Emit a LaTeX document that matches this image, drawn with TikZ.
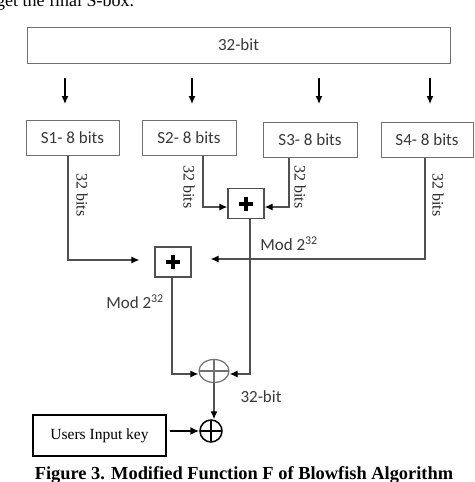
\documentclass[tikz,border=0pt]{standalone}
\usepackage{fontspec}
\setmainfont{Liberation Serif}
\newfontfamily\calib{Carlito}
\usetikzlibrary{arrows.meta,shapes.geometric}
\definecolor{boxgray}{HTML}{707070}
\definecolor{linegray}{HTML}{505050}
\definecolor{txtgray}{HTML}{383838}
\tikzset{
  sbox/.style={draw=boxgray,line width=1pt,minimum height=35pt,inner sep=0pt,font=\calib\fontsize{17}{19}\selectfont,text=txtgray},
  conn/.style={draw=linegray,line width=1.2pt,-{Latex[length=8pt,width=7pt,color=black]}},
  downarr/.style={draw=black,line width=1.2pt,-{Latex[length=8pt,width=7pt]}},
  pbox/.style={draw=linegray,line width=1.2pt,minimum width=36pt,minimum height=30pt,inner sep=0pt,
    path picture={\draw[black,line width=4pt] ([xshift=-7pt]path picture bounding box.center) -- ([xshift=7pt]path picture bounding box.center);
                  \draw[black,line width=4pt] ([yshift=-7pt]path picture bounding box.center) -- ([yshift=7pt]path picture bounding box.center);}},
  bitlab/.style={rotate=-90,font=\fontsize{16}{18}\selectfont,text=black!85},
  modlab/.style={font=\calib\fontsize{17}{19}\selectfont,text=txtgray},
}
\begin{document}
\begin{tikzpicture}[x=1pt,y=-1pt]
\useasboundingbox (0,0) rectangle (474,482);
\node[anchor=base west,font=\fontsize{18}{20}\selectfont,inner sep=0pt] (toptext) at (-4,6) {get the final S-box.};
% top box
\node[draw=boxgray,line width=1pt,minimum width=423pt,minimum height=36pt,inner sep=0pt,font=\calib\fontsize{17}{19}\selectfont,text=txtgray] (top) at (238.5,45) {32-bit};
% S boxes
\node[sbox,minimum width=93pt] (s1) at (72.5,137.5) {S1- 8 bits};
\node[sbox,minimum width=94pt] (s2) at (189,137.5) {S2- 8 bits};
\node[sbox,minimum width=94pt] (s3) at (310,139.5) {S3- 8 bits};
\node[sbox,minimum width=92pt] (s4) at (427,139.5) {S4- 8 bits};
% arrows from top box
\coordinate (a1) at (65,78); \coordinate (b1) at (65,104);
\coordinate (a2) at (192,78); \coordinate (b2) at (192,104);
\coordinate (a3) at (319,78); \coordinate (b3) at (319,104);
\coordinate (a4) at (430,78); \coordinate (b4) at (430,104);
\draw[downarr] (a1) -- (b1);
\draw[downarr] (a2) -- (b2);
\draw[downarr] (a3) -- (b3);
\draw[downarr] (a4) -- (b4);
% plus boxes
\node[pbox] (p1) at (173,262) {};
\node[pbox] (p2) at (246,203.5) {};
% XORs
\node[draw=boxgray,line width=1.2pt,ellipse,minimum width=30pt,minimum height=23pt,inner sep=0pt,
  path picture={\draw[boxgray,line width=1.2pt] (path picture bounding box.north) -- (path picture bounding box.south);
                \draw[boxgray,line width=1.2pt] (path picture bounding box.west) -- (path picture bounding box.east);}] (x1) at (214,371) {};
\node[draw=black,line width=1.5pt,circle,minimum size=22pt,inner sep=0pt,
  path picture={\draw[black,line width=1.5pt] (path picture bounding box.north) -- (path picture bounding box.south);
                \draw[black,line width=1.5pt] (path picture bounding box.west) -- (path picture bounding box.east);}] (x2) at (211,431) {};
% key box
\node[draw=black,line width=1.5pt,minimum width=133pt,minimum height=41pt,inner sep=0pt,font=\fontsize{15.5}{17}\selectfont] (key) at (99.5,435.5) {Users Input key};
% connectors
\draw[conn,shorten >=15pt] ([xshift=-4.5pt]s1.south) |- ([yshift=2pt]p1.west);
\draw[conn] ([xshift=14pt]s2.south) |- ([yshift=-3.5pt]p2.west);
\draw[conn] ([xshift=-21pt]s3.south) |- ([yshift=-3.5pt]p2.east);
\draw[conn,shorten >=19pt] ([xshift=-2pt]s4.south) |- ([yshift=3pt]p1.east);
\draw[conn] ([xshift=4pt]p2.south) |- ([yshift=-3pt]x1.east);
\draw[conn] ([xshift=-1pt]p1.south) |- ([yshift=-3pt]x1.west);
\draw[conn] (x1.south) -- (x1.south |- x2.north);
\draw[draw=black,line width=1.5pt,-{Latex[length=9pt,width=8pt]}] (key.east |- x2.west) ++(3pt,0) -- (x2.west);
% labels
\node[bitlab] (l1) at (82,195) {32 bits};
\node[bitlab] (l2) at (189,187) {32 bits};
\node[bitlab] (l3) at (300,187) {32 bits};
\node[bitlab] (l4) at (438,195) {32 bits};
\node[modlab] (m1) at (289,244) {Mod 2\textsuperscript{32}};
\node[modlab] (m2) at (135,302) {Mod 2\textsuperscript{32}};
\node[modlab] (m3) at (261,397) {32-bit};
% caption
\node[anchor=base,font=\bfseries\fontsize{18.4}{20}\selectfont,inner sep=0pt] (cap) at (244,479) {Figure 3. Modified Function F of Blowfish Algorithm};
\end{tikzpicture}
\end{document}
